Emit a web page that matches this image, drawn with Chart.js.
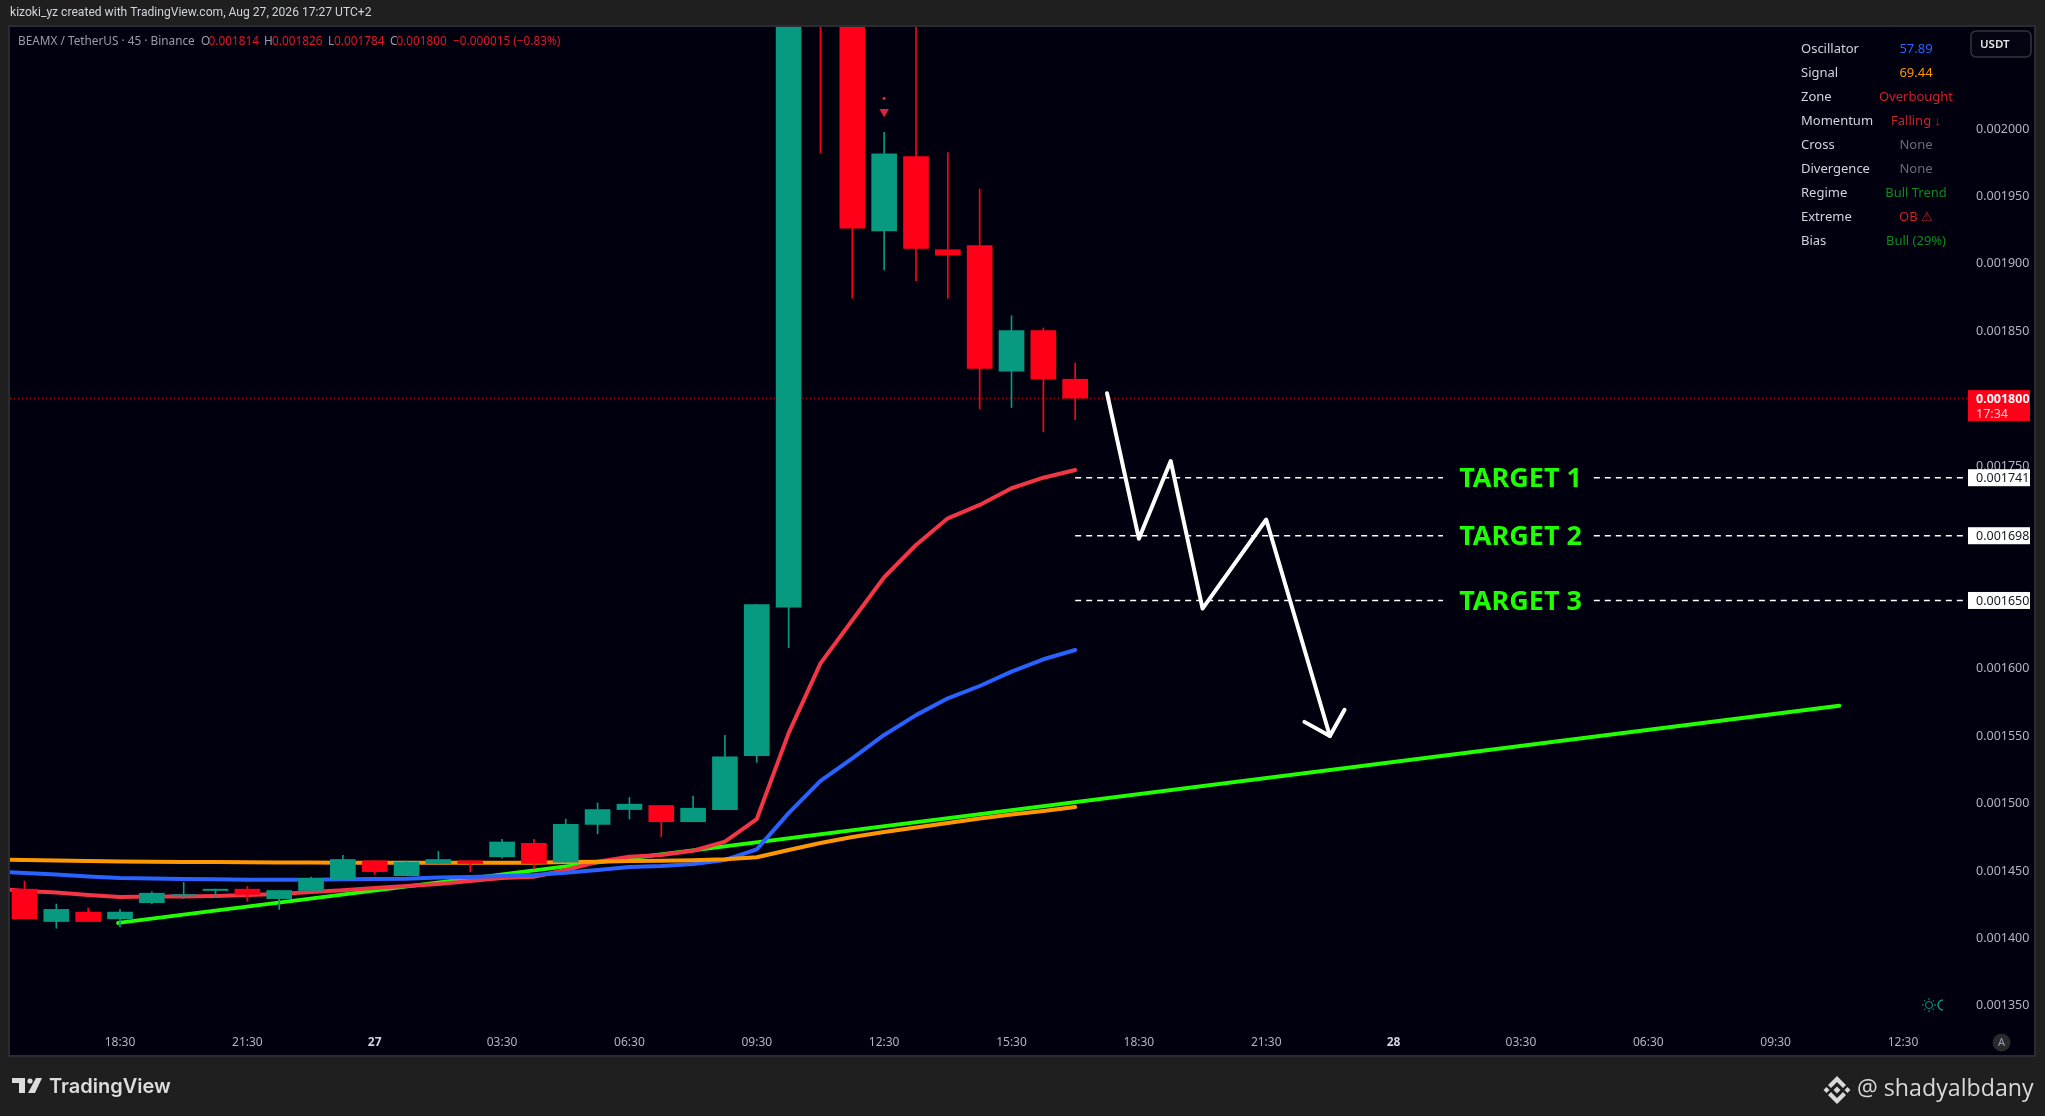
<!DOCTYPE html>
<html>
<head>
<meta charset="utf-8">
<title>BEAMX / TetherUS</title>
<script src="https://cdn.jsdelivr.net/npm/chart.js@4"></script>
<style>
    html, body { margin: 0; padding: 0; background: #1f1f1f; }
    canvas { display: block; }
</style>
</head>
<body>
<canvas id="priceChart" width="2045" height="1116"></canvas>
<script>
// candles, one per 45 minute bar. Bars 24-26 and 28 leave the pane at the top, those tops are guessed
const opens  = [0.001436,0.001412,0.001419,0.001414,0.001426,0.001431,0.001435,0.001436,0.001429,0.001435,0.001443,0.001457,0.001446,0.001455,0.001457,0.001460,0.001470,0.001456,0.001484,0.001495,0.001498,0.001486,0.001495,0.001535,0.001645,0.002240,0.002200,0.001924,0.001979,0.001910,0.001913,0.001820,0.001850,0.001814];
const highs  = [0.001442,0.001425,0.001422,0.001421,0.001434,0.001441,0.001436,0.001438,0.001435,0.001445,0.001461,0.001457,0.001457,0.001464,0.001457,0.001473,0.001473,0.001488,0.001500,0.001504,0.001498,0.001505,0.001550,0.001647,0.002200,0.002300,0.002230,0.001997,0.002100,0.001982,0.001955,0.001861,0.001852,0.001826];
const lows   = [0.001414,0.001407,0.001412,0.001408,0.001425,0.001429,0.001430,0.001427,0.001421,0.001435,0.001443,0.001447,0.001446,0.001455,0.001449,0.001459,0.001451,0.001456,0.001477,0.001488,0.001475,0.001486,0.001495,0.001530,0.001615,0.001982,0.001874,0.001895,0.001887,0.001874,0.001792,0.001793,0.001775,0.001784];
const closes = [0.001414,0.001421,0.001412,0.001419,0.001433,0.001432,0.001436,0.001432,0.001435,0.001444,0.001458,0.001449,0.001456,0.001458,0.001455,0.001471,0.001455,0.001484,0.001495,0.001499,0.001486,0.001496,0.001534,0.001647,0.002180,0.002200,0.001926,0.001981,0.001911,0.001906,0.001822,0.001850,0.001814,0.001800];

// moving averages start one bar left of the first candle so they reach the pane edge
const redMa    = [0.0014368,0.0014346,0.0014335,0.0014316,0.0014302,0.0014305,0.0014305,0.0014309,0.0014316,0.0014324,0.0014339,0.0014351,0.0014368,0.0014383,0.0014398,0.001442,0.0014442,0.0014452,0.0014502,0.0014563,0.00146,0.0014613,0.0014645,0.0014712,0.001488,0.0015517,0.0016034,0.0016353,0.0016672,0.0016911,0.0017109,0.0017208,0.0017332,0.001741,0.0017467];
const blueMa   = [0.0014491,0.001448,0.0014468,0.0014454,0.0014442,0.0014439,0.0014435,0.0014433,0.001443,0.001443,0.001443,0.0014433,0.0014435,0.0014437,0.0014446,0.001445,0.0014457,0.0014465,0.0014482,0.0014502,0.0014524,0.0014531,0.0014546,0.0014576,0.0014655,0.0014924,0.0015162,0.001533,0.0015503,0.001565,0.0015775,0.0015866,0.0015972,0.0016064,0.0016133];
const orangeMa = [0.001458,0.0014576,0.0014572,0.0014569,0.0014565,0.0014564,0.0014562,0.0014562,0.001456,0.0014558,0.0014558,0.0014556,0.0014556,0.0014556,0.0014556,0.0014556,0.0014556,0.0014556,0.0014562,0.0014564,0.0014569,0.0014571,0.0014574,0.0014581,0.0014596,0.001465,0.0014702,0.0014746,0.0014783,0.0014817,0.001485,0.0014884,0.0014913,0.0014939,0.0014969];

// hand drawn bits: trend line, projected path with arrow head, target levels
const trendBars = [2.94, 57];
const trendPrices = [0.001411, 0.001572];
const pathBars = [34, 35, 36, 37, 39, 41];
const pathPrices = [0.0018036, 0.0016958, 0.0017534, 0.001644, 0.00171, 0.0015495];
const headBars = [40.2, 41, 41.46];
const headPrices = [0.00156, 0.0015495, 0.001569];
const targetNames = ['TARGET 1', 'TARGET 2', 'TARGET 3'];
const targetPrices = [0.001741, 0.001698, 0.00165];
const lastPrice = 0.0018;
const signalBar = 27;
const signalPrices = [0.0020122, 0.0020222];

// time axis
const tickBars = [3, 7, 11, 15, 19, 23, 27, 31, 35, 39, 43, 47, 51, 55, 59];
const tickLabels = ['18:30', '21:30', '27', '03:30', '06:30', '09:30', '12:30', '15:30', '18:30', '21:30', '28', '03:30', '06:30', '09:30', '12:30'];

// status table, top right
const statusNames = ['Oscillator', 'Signal', 'Zone', 'Momentum', 'Cross', 'Divergence', 'Regime', 'Extreme', 'Bias'];
const statusValues = ['57.89', '69.44', 'Overbought', 'Falling ↓', 'None', 'None', 'Bull Trend', 'OB ⚠', 'Bull (29%)'];
const statusColors = ['#2962ff', '#ff9800', '#d11f2c', '#d11f2c', '#6a6d78', '#6a6d78', '#0c8a20', '#d11f2c', '#0c8a20'];

const UP = '#089981';
const DOWN = '#ff0018';
const FONT = '"Noto Sans", sans-serif';

const isUp = opens.map((o, i) => closes[i] >= o);
const candleColors = isUp.map(u => u ? UP : DOWN);
const xy = (bars, prices) => bars.map((b, i) => ({ x: b, y: prices[i] }));
const maPoints = prices => prices.map((p, i) => ({ x: i - 1, y: p }));

function maLine(label, prices, color, order) {
    return {
        type: 'line', label: label, data: maPoints(prices), borderColor: color, borderWidth: 4,
        pointRadius: 0, tension: 0, borderCapStyle: 'round', borderJoinStyle: 'round', order: order
    };
}

function whiteLine(label, data) {
    return {
        type: 'line', label: label, data: data, borderColor: '#ffffff', borderWidth: 4,
        pointRadius: 0, tension: 0, borderCapStyle: 'round', borderJoinStyle: 'round', order: 1
    };
}

function targetLine(price) {
    return {
        type: 'line', label: 'target', borderColor: '#ffffff', borderWidth: 1.4, borderDash: [6, 5],
        pointRadius: 0, tension: 0, spanGaps: false, order: 1,
        // the break leaves room for the TARGET text
        data: [{ x: 33, y: price }, { x: 44.55, y: price }, { x: 44.6, y: null }, { x: 49.29, y: price }, { x: 61.01, y: price }]
    };
}

function chevron(c, cx, cy, dir) {
    c.beginPath();
    c.moveTo(cx, cy - 14 * dir);
    c.lineTo(cx + 9, cy - 5 * dir);
    c.lineTo(cx + 6, cy - 2 * dir);
    c.lineTo(cx, cy - 8 * dir);
    c.lineTo(cx - 6, cy - 2 * dir);
    c.lineTo(cx - 9, cy - 5 * dir);
    c.closePath();
    c.fill();
}

const overlayPlugin = {
    id: 'overlay',
    beforeDraw(chart) {
        const c = chart.ctx;
        c.save();
        c.fillStyle = '#1f1f1f';
        c.fillRect(0, 0, chart.width, chart.height);
        c.fillStyle = '#01000f';
        c.fillRect(10, 27, 2024, 1028);
        c.strokeStyle = '#2b2b33';
        c.lineWidth = 2;
        c.strokeRect(9, 26, 2026, 1030);
        c.restore();
    },
    afterDraw(chart) {
        const c = chart.ctx;
        const x = chart.scales.x;
        const y = chart.scales.y;
        c.save();
        c.textBaseline = 'middle';

        // header and legend
        c.font = '12.1px Roboto, ' + FONT;
        c.fillStyle = '#d1d4dc';
        c.fillText('kizoki_yz created with TradingView.com, Aug 27, 2026 17:27 UTC+2', 10, 13);
        c.font = '11.8px ' + FONT;
        const gray = '#9a9da8';
        const red = '#e0182b';
        [['BEAMX / TetherUS · 45 · Binance', 18, gray], ['O', 201, gray], ['0.001814', 208.5, red], ['H', 264, gray], ['0.001826', 272, red],
         ['L', 328, gray], ['0.001784', 334, red], ['C', 390, gray], ['0.001800', 396.4, red], ['−0.000015 (−0.83%)', 453, red]].forEach(t => {
            c.fillStyle = t[2];
            c.fillText(t[0], t[1], 42);
        });

        // status table
        statusNames.forEach((name, i) => {
            const rowY = 49.3 + i * 24;
            c.font = '13px ' + FONT;
            c.textAlign = 'left';
            c.fillStyle = '#d1d4dc';
            c.fillText(name, 1801, rowY);
            c.textAlign = 'center';
            c.fillStyle = statusColors[i];
            c.fillText(statusValues[i], 1916, rowY);
        });

        // currency button
        c.textAlign = 'left';
        c.beginPath();
        c.roundRect(1971, 31, 60, 26, 5);
        c.fillStyle = '#050412';
        c.fill();
        c.strokeStyle = '#34343c';
        c.lineWidth = 1.5;
        c.stroke();
        c.fillStyle = '#e4e4e8';
        c.font = '600 11.5px ' + FONT;
        c.fillText('USDT', 1980, 45);

        // target names and price boxes
        targetPrices.forEach((price, i) => {
            const py = y.getPixelForValue(price);
            c.textAlign = 'left';
            c.font = 'bold 27px ' + FONT;
            c.fillStyle = '#1eff00';
            c.fillText(targetNames[i], x.getPixelForValue(45.06), py + 2);
            c.fillStyle = '#ffffff';
            c.fillRect(1968, py - 8.5, 62, 17);
            c.fillStyle = '#131722';
            c.font = '12.5px ' + FONT;
            c.fillText(price.toFixed(6), 1976, py + 1);
        });

        // last price box
        const lp = y.getPixelForValue(lastPrice);
        c.fillStyle = DOWN;
        c.fillRect(1968, lp - 8, 62, 31);
        c.fillStyle = '#ffffff';
        c.font = 'bold 12.5px ' + FONT;
        c.fillText(lastPrice.toFixed(6), 1976, lp + 1.5);
        c.fillStyle = '#f7c9cf';
        c.font = '12.5px ' + FONT;
        c.fillText('17:34', 1976, lp + 16);

        // sun and moon icon
        c.strokeStyle = UP;
        c.lineWidth = 1;
        c.beginPath();
        c.arc(1929, 1005, 3.5, 0, Math.PI * 2);
        for (let i = 0; i < 8; i++) {
            const a = i * Math.PI / 4;
            c.moveTo(1929 + Math.cos(a) * 5, 1005 + Math.sin(a) * 5);
            c.lineTo(1929 + Math.cos(a) * 7, 1005 + Math.sin(a) * 7);
        }
        c.stroke();
        c.lineWidth = 1.4;
        c.beginPath();
        c.arc(1943, 1005, 5, Math.PI * 0.5, Math.PI * 1.5);
        c.stroke();

        // auto scale button
        c.beginPath();
        c.arc(2001.5, 1042.5, 9, 0, Math.PI * 2);
        c.fillStyle = '#2a2a2e';
        c.fill();
        c.fillStyle = '#9a9da8';
        c.textAlign = 'center';
        c.font = '11px ' + FONT;
        c.fillText('A', 2001.5, 1043);

        // TradingView mark
        c.textAlign = 'left';
        c.fillStyle = '#dcdcdc';
        c.fillRect(12, 1078, 13, 5);
        c.fillRect(19, 1078, 6, 15);
        c.beginPath();
        c.arc(30, 1081, 2.6, 0, Math.PI * 2);
        c.moveTo(36, 1078);
        c.lineTo(42, 1078);
        c.lineTo(35, 1093);
        c.lineTo(28, 1093);
        c.fill();
        c.font = '600 20px Inter, ' + FONT;
        c.fillText('TradingView', 49, 1087);

        // Binance style diamonds and handle
        c.fillStyle = '#d9d9d9';
        chevron(c, 1837, 1090, 1);
        chevron(c, 1837, 1090, -1);
        [[1826.5, 1090, 3], [1847.5, 1090, 3], [1837, 1090, 3.5]].forEach(d => {
            c.beginPath();
            c.moveTo(d[0], d[1] - d[2]);
            c.lineTo(d[0] + d[2], d[1]);
            c.lineTo(d[0], d[1] + d[2]);
            c.lineTo(d[0] - d[2], d[1]);
            c.fill();
        });
        c.font = '23.2px "Open Sans", ' + FONT;
        c.fillText('@ shadyalbdany', 1857, 1089);
        c.restore();
    }
};

const ctx = document.getElementById('priceChart').getContext('2d');
const priceChart = new Chart(ctx, {
    type: 'bar',
    data: {
        datasets: [
            // bodies and wicks sit on top of the averages
            { label: 'bodies', data: opens.map((o, i) => ({ x: i, y: [o, closes[i]] })), backgroundColor: candleColors, barThickness: 25, grouped: false, order: 2 },
            { label: 'wicks', data: highs.map((h, i) => ({ x: i, y: [lows[i], h] })), backgroundColor: candleColors, barThickness: 1, grouped: false, order: 3 },
            maLine('orange', orangeMa, '#ff9800', 4),
            maLine('blue', blueMa, '#2962ff', 5),
            maLine('red', redMa, '#f23645', 6),
            { type: 'line', label: 'trend', data: xy(trendBars, trendPrices), borderColor: '#22ff00', borderWidth: 4, pointRadius: 0, borderCapStyle: 'round', order: 7 },
            { type: 'line', label: 'last', data: [{ x: -0.455, y: lastPrice }, { x: 61.01, y: lastPrice }], borderColor: '#ff0018', borderWidth: 1, borderDash: [1, 3], pointRadius: 0, order: 8 },
            targetLine(targetPrices[0]),
            targetLine(targetPrices[1]),
            targetLine(targetPrices[2]),
            whiteLine('path', xy(pathBars, pathPrices)),
            whiteLine('head', xy(headBars, headPrices)),
            { type: 'line', label: 'signal', data: [{ x: signalBar, y: signalPrices[0] }], showLine: false, pointStyle: 'triangle', rotation: 180, pointRadius: 5.5, pointBackgroundColor: '#e0223c', pointBorderWidth: 0, order: 1 },
            { type: 'line', label: 'signal dot', data: [{ x: signalBar, y: signalPrices[1] }], showLine: false, pointStyle: 'circle', pointRadius: 1.6, pointBackgroundColor: '#e0223c', pointBorderWidth: 0, order: 1 }
        ]
    },
    options: {
        responsive: false,
        animation: false,
        devicePixelRatio: 1,
        layout: { padding: { left: 10, top: 27, right: 11, bottom: 61 } },
        plugins: { legend: { display: false }, tooltip: { enabled: false } },
        scales: {
            x: {
                type: 'linear',
                offset: false,
                min: -0.455,
                max: 61.01,
                grid: { display: false, drawTicks: false },
                border: { display: false },
                afterBuildTicks: scale => { scale.ticks = tickBars.map(b => ({ value: b })); },
                afterFit: scale => { scale.height = 30; },
                ticks: {
                    autoSkip: false,
                    maxRotation: 0,
                    padding: 10,
                    color: c => (c.tick && (c.tick.value === 11 || c.tick.value === 43)) ? '#d1d4dc' : '#b2b5be',
                    font: c => ({ family: FONT, size: 12, weight: (c.tick && (c.tick.value === 11 || c.tick.value === 43)) ? 'bold' : 'normal' }),
                    callback: value => tickLabels[tickBars.indexOf(value)]
                }
            },
            y: {
                position: 'right',
                min: 0.0013353,
                max: 0.0020751,
                grid: { display: false, drawTicks: false },
                border: { display: false },
                afterFit: scale => { scale.width = 67; },
                ticks: {
                    stepSize: 0.00005,
                    includeBounds: false,
                    padding: 9,
                    labelOffset: 0.7,
                    color: '#b2b5be',
                    font: { family: FONT, size: 12.5 },
                    // 0.002050 sits under the USDT button in the original, so it stays hidden
                    callback: value => value > 0.00201 ? null : value.toFixed(6)
                }
            }
        }
    },
    plugins: [overlayPlugin]
});
</script>
</body>
</html>
